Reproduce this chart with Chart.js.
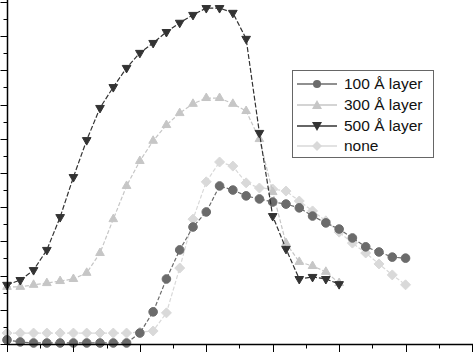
<!DOCTYPE html>
<html>
<head>
<meta charset="utf-8">
<script src="https://cdn.jsdelivr.net/npm/chart.js@4/dist/chart.umd.min.js"></script>
<style>
  html, body { margin: 0; padding: 0; background: #fff; }
  #wrap { position: relative; width: 474px; height: 352px; }
  #legend {
    position: absolute; left: 292px; top: 70px; width: 140px; height: 86px;
    border: 1px solid #666; background: #fff;
    font-family: "Liberation Sans", Arial, sans-serif; font-size: 15.5px; color: #111;
  }
  #legend .row { position: absolute; left: 0; height: 20px; display: flex; align-items: center; }
  #legend svg { margin-left: 4px; margin-right: 7px; }
</style>
</head>
<body>
<div id="wrap">
  <canvas id="chart" width="474" height="352"></canvas>
  <div id="legend"></div>
</div>
<script>
// x positions of the measured points
const xs = [0, 0.2, 0.4, 0.6, 0.8, 1.0, 1.2, 1.4, 1.6, 1.8, 2.0, 2.2, 2.4, 2.6, 2.8, 3.0,
            3.2, 3.4, 3.6, 3.8, 4.0, 4.2, 4.4, 4.6, 4.8, 5.0, 5.2, 5.4, 5.6, 5.8, 6.0];

const labels = ["100 Å layer", "300 Å layer", "500 Å layer", "none"];

const s100 = [0.12, 0.06, 0.03, 0.03, 0.03, 0.03, 0.03, 0.03, 0.03, 0.03, 0.32, 0.94, 1.90, 2.75, 3.42, 3.86,
              4.62, 4.50, 4.33, 4.24, 4.15, 4.09, 3.98, 3.74, 3.54, 3.36, 3.10, 2.84, 2.69, 2.54, 2.51];
const s300 = [1.67, 1.67, 1.73, 1.78, 1.84, 1.90, 2.08, 2.66, 3.65, 4.62, 5.35, 5.94, 6.40, 6.75, 7.02, 7.19,
              7.19, 7.02, 6.81, 5.99, 4.44, 2.95, 2.40, 2.28, 2.11, 1.78];
const s500 = [1.73, 1.87, 2.16, 2.75, 3.71, 4.88, 5.96, 6.90, 7.51, 8.07, 8.51, 8.80, 9.12, 9.39, 9.62, 9.82,
              9.82, 9.68, 8.92, 6.17, 3.74, 2.78, 1.90, 1.96, 1.90, 1.75];
const sNone = [0.32, 0.32, 0.32, 0.32, 0.32, 0.32, 0.32, 0.32, 0.32, 0.32, 0.35, 0.38, 0.91, 2.22, 3.65, 4.74,
               5.32, 5.20, 4.71, 4.56, 4.53, 4.47, 4.18, 3.89, 3.60, 3.27, 2.95, 2.66, 2.34, 2.02, 1.73];

// axis extent (ticks run to these), and the slightly smaller plot range
// Chart.js keeps a few px of padding for the markers, so the axes are continued by hand
const xEnd = 7, yEnd = 10;
const xMax = 6.94, yMax = 9.88;

const styles = [
  { color: "#6b6b6b", point: "circle", radius: 4.3, rot: 0, dash: [4, 2] },
  { color: "#c6c6c6", point: "triangle", radius: 5, rot: 0, dash: [4, 2] },
  { color: "#333333", point: "triangle", radius: 5, rot: 180, dash: [5, 2] },
  { color: "#d9d9d9", point: "rectRot", radius: 5, rot: 0, dash: [4, 2] }
];
const series = [s100, s300, s500, sNone];
const drawOrder = [2, 3, 1, 4];

const toPoints = arr => arr.map((v, i) => ({ x: xs[i], y: v }));

// axis lines + ticks on the outside, long for majors, short for minors
const axisTicks = {
  id: "axisTicks",
  afterDraw(chart) {
    const { ctx, chartArea: a, scales } = chart;
    const x0 = Math.round(scales.x.getPixelForValue(0)) + 0.5;
    const y0 = Math.round(scales.y.getPixelForValue(0)) + 0.5;
    ctx.save();
    ctx.strokeStyle = "#000";
    ctx.lineWidth = 1.5;
    ctx.beginPath();
    ctx.moveTo(x0, Math.max(0, scales.y.getPixelForValue(yEnd) - 2));
    ctx.lineTo(x0, y0);
    ctx.lineTo(scales.x.getPixelForValue(xEnd) + 1, y0);
    ctx.stroke();
    ctx.lineWidth = 1;
    for (let v = 0; v <= xEnd + 1e-9; v += 0.5) {
      const px = Math.round(scales.x.getPixelForValue(v)) + 0.5;
      const len = Math.abs(v - Math.round(v)) < 1e-6 ? 8 : 4;
      ctx.beginPath(); ctx.moveTo(px, y0); ctx.lineTo(px, y0 + len); ctx.stroke();
    }
    for (let v = 0; v <= yEnd + 1e-9; v += 0.5) {
      const py = Math.round(scales.y.getPixelForValue(v)) + 0.5;
      const len = Math.abs(v - Math.round(v)) < 1e-6 ? 7 : 4;
      ctx.beginPath(); ctx.moveTo(x0, py); ctx.lineTo(x0 - len, py); ctx.stroke();
    }
    ctx.restore();
  }
};

const datasets = series.map((arr, k) => ({
  label: labels[k],
  data: toPoints(arr),
  borderColor: styles[k].color,
  backgroundColor: styles[k].color,
  borderWidth: 1.2,
  borderDash: styles[k].dash,
  pointStyle: styles[k].point,
  pointRadius: styles[k].radius,
  pointRotation: styles[k].rot,
  pointBorderWidth: 1,
  tension: 0,
  clip: false,
  order: drawOrder[k]
}));

new Chart(document.getElementById("chart"), {
  type: "line",
  data: { datasets },
  plugins: [axisTicks],
  options: {
    responsive: false,
    animation: false,
    layout: { padding: { left: 7, right: 6, top: 6, bottom: 8 } },
    plugins: { legend: { display: false }, tooltip: { enabled: false } },
    scales: {
      x: {
        type: "linear", min: 0, max: xMax,
        ticks: { display: false },
        grid: { display: false, drawTicks: false },
        border: { display: false }
      },
      y: {
        type: "linear", min: 0, max: yMax,
        ticks: { display: false },
        grid: { display: false, drawTicks: false },
        border: { display: false }
      }
    }
  }
});

// legend as html, with small line + marker samples
function sample(st) {
  const c = st.color;
  let m;
  if (st.point === "circle") m = `<circle cx="20" cy="8" r="4" fill="${c}"/>`;
  else if (st.point === "rectRot") m = `<polygon points="20,3 25,8 20,13 15,8" fill="${c}"/>`;
  else if (st.rot === 180) m = `<polygon points="15,4 25,4 20,13" fill="${c}"/>`;
  else m = `<polygon points="15,12 25,12 20,3" fill="${c}"/>`;
  return `<svg width="40" height="16"><line x1="0" y1="8" x2="40" y2="8" stroke="${c}" stroke-width="1.5"/>${m}</svg>`;
}
const legend = document.getElementById("legend");
const rowTops = [3, 24, 45, 65];
labels.forEach((t, k) => {
  const row = document.createElement("div");
  row.className = "row";
  row.style.top = rowTops[k] + "px";
  row.innerHTML = sample(styles[k]) + `<span>${t}</span>`;
  legend.appendChild(row);
});
</script>
</body>
</html>
